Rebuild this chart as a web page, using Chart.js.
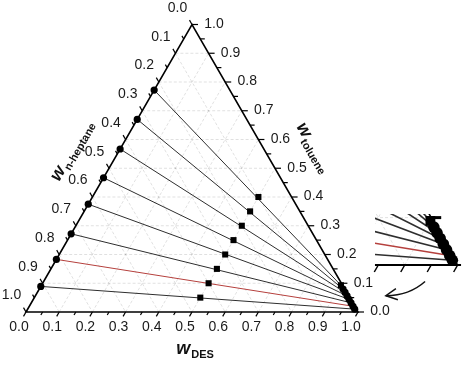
<!DOCTYPE html>
<html>
<head>
<meta charset="utf-8">
<script src="https://cdn.jsdelivr.net/npm/chart.js@4.4.1/dist/chart.umd.min.js"></script>
<style>
  html, body { margin: 0; padding: 0; background: #fff; }
  #wrap { position: relative; width: 474px; height: 367px; }
  #main { position: absolute; left: 0; top: 0; }
  #inset { position: absolute; left: 368px; top: 205px; }
</style>
</head>
<body>
<div id="wrap">
  <canvas id="main" width="474" height="367"></canvas>
  <canvas id="inset" width="100" height="72"></canvas>
</div>
<script>
// axis ticks (same on all three sides)
const tickValues = [0.0, 0.1, 0.2, 0.3, 0.4, 0.5, 0.6, 0.7, 0.8, 0.9, 1.0];
const tickLabels = ['0.0', '0.1', '0.2', '0.3', '0.4', '0.5', '0.6', '0.7', '0.8', '0.9', '1.0'];

// n-heptane rich phase (left edge), mass fractions
const rafDes = [0.0, 0.0, 0.0, 0.0, 0.0, 0.0, 0.0, 0.0];
const rafTol = [0.772, 0.670, 0.567, 0.467, 0.375, 0.272, 0.183, 0.089];

// feed mixtures (squares)
const feedDes = [0.50, 0.50, 0.50, 0.50, 0.50, 0.50, 0.50, 0.50];
const feedTol = [0.40, 0.35, 0.30, 0.25, 0.20, 0.15, 0.10, 0.05];

// DES rich phase (corner cluster)
const extDes = [0.902, 0.915, 0.927, 0.939, 0.951, 0.963, 0.975, 0.985];
const extTol = [0.093, 0.080, 0.068, 0.056, 0.044, 0.032, 0.020, 0.010];

const redLine = 6; // 7th tie line drawn in red

const SQ3 = Math.sqrt(3);
function tern(d, t) { return { x: d + t / 2, y: t * SQ3 / 2 }; }
function toPx(chart, d, t) {
  const p = tern(d, t);
  return { x: chart.scales.x.getPixelForValue(p.x), y: chart.scales.y.getPixelForValue(p.y) };
}
function seg(ctx, a, b) {
  ctx.beginPath(); ctx.moveTo(a.x, a.y); ctx.lineTo(b.x, b.y); ctx.stroke();
}

function drawGrid(chart) {
  const ctx = chart.ctx;
  ctx.save();
  ctx.strokeStyle = 'rgba(0,0,0,0.12)';
  ctx.lineWidth = 1;
  ctx.setLineDash([3, 2]);
  tickValues.slice(1, -1).forEach(v => {
    seg(ctx, toPx(chart, 0, v), toPx(chart, 1 - v, v));
    seg(ctx, toPx(chart, v, 0), toPx(chart, v, 1 - v));
    seg(ctx, toPx(chart, 0, 1 - v), toPx(chart, 1 - v, 0));
  });
  ctx.restore();
}

function subText(ctx, main, sub, cx, cy, angle) {
  ctx.save();
  ctx.translate(cx, cy);
  ctx.rotate(angle);
  ctx.fillStyle = '#111';
  ctx.textBaseline = 'alphabetic';
  ctx.textAlign = 'left';
  const fMain = 'italic bold 18px "Liberation Sans", Arial, sans-serif';
  const fSub = 'bold 11px "Liberation Sans", Arial, sans-serif';
  ctx.font = fMain;
  const w1 = ctx.measureText(main).width;
  ctx.font = fSub;
  const w2 = ctx.measureText(sub).width;
  const x0 = -(w1 + w2 + 1) / 2;
  ctx.font = fMain;
  ctx.fillText(main, x0, 4);
  ctx.font = fSub;
  ctx.fillText(sub, x0 + w1 + 1, 8);
  ctx.restore();
}

const mainDecor = {
  id: 'mainDecor',
  beforeDatasetsDraw(chart) {
    const ctx = chart.ctx;
    drawGrid(chart);
    ctx.save();
    ctx.strokeStyle = '#000';
    ctx.lineWidth = 1.6;
    const a = toPx(chart, 0, 0), b = toPx(chart, 1, 0), c = toPx(chart, 0, 1);
    ctx.beginPath();
    ctx.moveTo(a.x, a.y); ctx.lineTo(b.x, b.y); ctx.lineTo(c.x, c.y); ctx.closePath();
    ctx.stroke();
    // ticks every 0.05
    ctx.lineWidth = 1.2;
    for (let k = 0; k <= 20; k++) {
      const v = k / 20;
      const len = k % 2 === 0 ? 5 : 3.5;
      const pb = toPx(chart, v, 0);
      seg(ctx, pb, { x: pb.x - 0.5 * len, y: pb.y + 0.866 * len });
      const pl = toPx(chart, 0, 1 - v);
      seg(ctx, pl, { x: pl.x - 0.5 * len, y: pl.y - 0.866 * len });
      const pr = toPx(chart, 1 - v, v);
      seg(ctx, pr, { x: pr.x + len + 1, y: pr.y });
    }
    ctx.restore();
  },
  afterDatasetsDraw(chart) {
    const ctx = chart.ctx;
    ctx.save();
    ctx.fillStyle = '#1a1a1a';
    ctx.font = '14px "Liberation Sans", Arial, sans-serif';
    ctx.textAlign = 'center';
    ctx.textBaseline = 'middle';
    tickValues.forEach((v, i) => {
      const pb = toPx(chart, v, 0);
      ctx.fillText(tickLabels[i], pb.x - 7, pb.y + 15);
      const pl = toPx(chart, 0, 1 - v);
      ctx.fillText(tickLabels[i], pl.x - 14.5, pl.y - 16.5);
      const pr = toPx(chart, 1 - v, v);
      ctx.fillText(tickLabels[i], pr.x + 22, pr.y - 0.5);
    });
    ctx.restore();

    subText(ctx, 'w', 'n-heptane', 72.5, 151, -Math.PI / 3);
    subText(ctx, 'w', 'toluene', 313, 148, Math.PI / 3);
    subText(ctx, 'w', 'DES', 195, 350, 0);

    // curved arrow from the inset to the DES corner
    const xs = chart.scales.x, ys = chart.scales.y;
    const P = (X, Y) => ({ x: xs.getPixelForValue(X), y: ys.getPixelForValue(Y) });
    const s = P(1.202, 0.092), cp = P(1.155, 0.05), e = P(1.084, 0.049);
    ctx.save();
    ctx.strokeStyle = '#111';
    ctx.lineWidth = 1.5;
    ctx.beginPath();
    ctx.moveTo(s.x, s.y);
    ctx.quadraticCurveTo(cp.x, cp.y, e.x, e.y);
    ctx.stroke();
    ctx.beginPath();
    ctx.moveTo(e.x + 10, e.y - 7);
    ctx.lineTo(e.x, e.y);
    ctx.lineTo(e.x + 12, e.y + 4);
    ctx.stroke();
    ctx.restore();
  }
};

const insetDecor = {
  id: 'insetDecor',
  beforeDatasetsDraw(chart) {
    const ctx = chart.ctx, area = chart.chartArea;
    ctx.save();
    ctx.beginPath();
    ctx.rect(area.left, area.top, area.right - area.left, area.bottom - area.top);
    ctx.clip();
    drawGrid(chart);
    ctx.strokeStyle = '#000';
    ctx.lineWidth = 1.5;
    seg(ctx, toPx(chart, 1, 0), toPx(chart, 0, 1));
    ctx.restore();

    ctx.save();
    ctx.strokeStyle = '#000';
    ctx.lineWidth = 2;
    const y0 = chart.scales.y.getPixelForValue(0);
    seg(ctx, { x: area.left, y: y0 }, { x: area.right, y: y0 });
    ctx.lineWidth = 1.5;
    for (let k = 0; k <= 20; k++) {
      const pb = toPx(chart, k / 20, 0);
      if (pb.x < area.left - 1 || pb.x > area.right) continue;
      seg(ctx, pb, { x: pb.x - 4, y: pb.y + 7 });
    }
    const pr = toPx(chart, 0.9, 0.1);
    ctx.lineWidth = 3;
    seg(ctx, { x: pr.x - 4, y: pr.y }, { x: pr.x + 10, y: pr.y });
    ctx.restore();
  }
};

function tieLines(width) {
  return rafTol.map((t, i) => ({
    data: [tern(rafDes[i], t), tern(extDes[i], extTol[i])],
    showLine: true,
    borderColor: i === redLine ? '#b5403d' : '#2e2e2e',
    borderWidth: width,
    pointRadius: 0,
    clip: 0
  }));
}

function extPoints(r) {
  return {
    data: extTol.map((t, i) => tern(extDes[i], t)),
    pointStyle: c => c.dataIndex === 0 ? 'rect' : 'circle',
    pointRadius: c => c.dataIndex === 0 ? r * 1.2 : r,
    backgroundColor: '#000',
    borderColor: '#000',
    borderWidth: 0,
    showLine: false,
    clip: false
  };
}

const baseOptions = {
  responsive: false,
  animation: false,
  events: [],
  plugins: { legend: { display: false }, tooltip: { enabled: false } }
};

new Chart(document.getElementById('main'), {
  type: 'scatter',
  data: {
    datasets: [
      {
        data: rafTol.map((t, i) => tern(rafDes[i], t)),
        pointStyle: 'circle', pointRadius: 3.6,
        backgroundColor: '#000', borderWidth: 0, showLine: false, clip: false
      },
      {
        data: feedTol.map((t, i) => tern(feedDes[i], t)),
        pointStyle: 'rect', pointRadius: 4.3,
        backgroundColor: '#000', borderWidth: 0, showLine: false, clip: false
      },
      extPoints(3.6),
      ...tieLines(1)
    ]
  },
  options: {
    ...baseOptions,
    layout: { padding: { left: 26, right: 116, top: 24.5, bottom: 55 } },
    scales: {
      x: { type: 'linear', min: 0, max: 1, display: false },
      y: { type: 'linear', min: 0, max: SQ3 / 2, display: false }
    }
  },
  plugins: [mainDecor]
});

new Chart(document.getElementById('inset'), {
  type: 'scatter',
  data: {
    datasets: [extPoints(5.8), ...tieLines(1.6)]
  },
  options: {
    ...baseOptions,
    layout: { padding: { left: 5, right: 6, top: 9, bottom: 12 } },
    scales: {
      x: { type: 'linear', min: 0.8437, max: 1.0064, display: false },
      y: { type: 'linear', min: 0, max: 0.0932, display: false }
    }
  },
  plugins: [insetDecor]
});
</script>
</body>
</html>
